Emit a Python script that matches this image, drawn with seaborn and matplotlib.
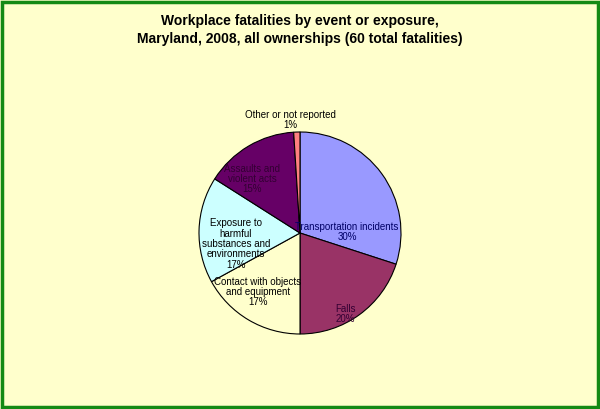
import matplotlib
matplotlib.use("Agg")
import matplotlib.pyplot as plt
import seaborn as sns
from matplotlib.patches import Rectangle

categories = ["Transportation incidents", "Falls", "Contact with objects\nand equipment",
              "Exposure to\nharmful\nsubstances and\nenvironments",
              "Assaults and\nviolent acts", "Other or not reported"]
values = [30, 20, 17, 17, 15, 1]
colors = ["#9999FF", "#993366", "#FFFFCC", "#CCFFFF", "#660066", "#FF8080"]
label_colors = ["#000066", "#330033", "#000000", "#000000", "#330033", "#000000"]

sns.set_theme(style="white")
plt.rcParams['font.family'] = ['Liberation Sans', 'DejaVu Sans']

bg = "#FFFFCC"
fig = plt.figure(figsize=(6.0, 4.09), dpi=100, facecolor=bg)
ax = fig.add_axes([0, 0, 1, 1])
ax.set_facecolor(bg)

cx, cy, r = 300, 409 - 233, 101
wedges, _ = ax.pie(values, colors=colors, startangle=90, counterclock=False,
                   center=(cx, cy), radius=r, frame=True,
                   wedgeprops=dict(edgecolor="#000000", linewidth=0.8))
ax.set_xlim(0, 600)
ax.set_ylim(0, 409)
ax.set_aspect("equal")
ax.axis("off")

# label positions (pixel coords from top)
label_pos = [(347, 232), (345, 314), (258, 292), (236, 244), (252, 179), (290, 120)]
for cat, v, (lx, ly), lc in zip(categories, values, label_pos, label_colors):
    ax.text(lx, 409 - ly, f"{cat}\n{v}%", ha="center", va="center",
            fontsize=7, color=lc, linespacing=1.05)

ax.text(300, 409 - 30, "Workplace fatalities by event or exposure,\nMaryland, 2008, all ownerships (60 total fatalities)",
        ha="center", va="center", fontsize=10, fontweight="bold", color="#000000",
        linespacing=1.3)

ax.add_patch(Rectangle((2, 2), 596, 405, fill=False, edgecolor="#148A14", linewidth=2.5))

fig.savefig("out.png", dpi=100, facecolor=bg)
